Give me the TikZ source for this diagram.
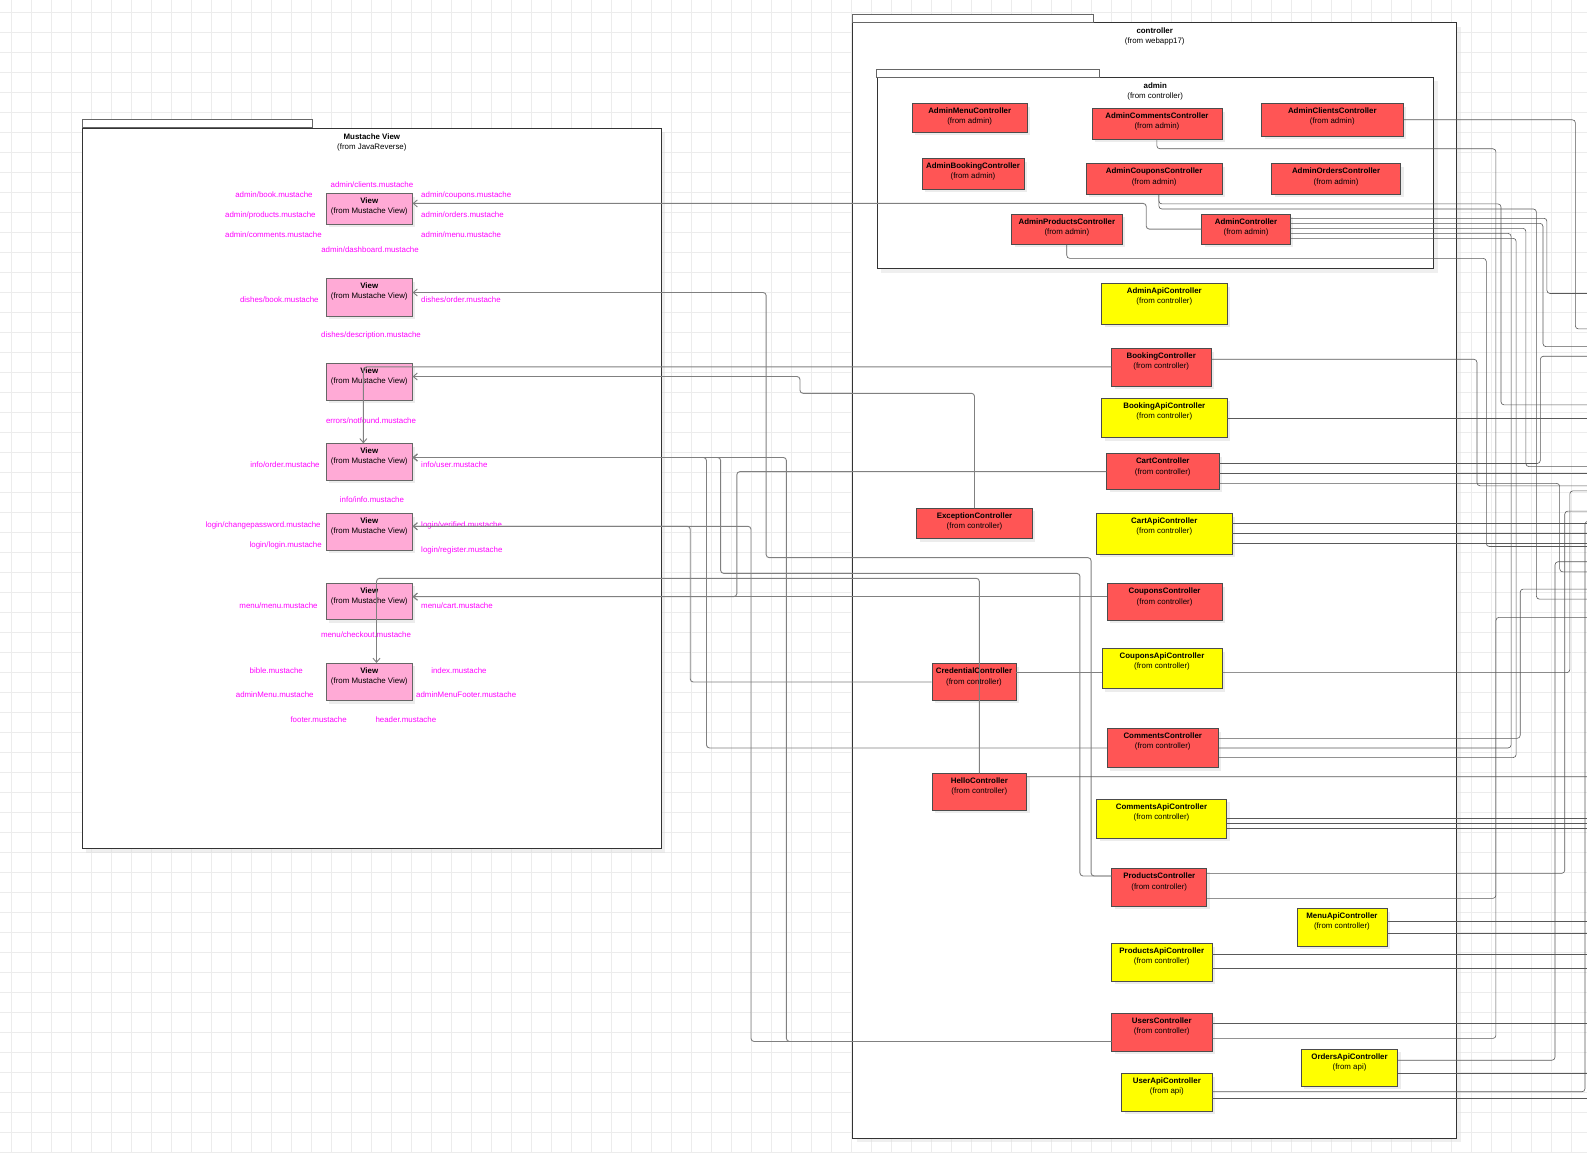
\documentclass[tikz,border=0pt]{standalone}
\usepackage{fontspec}
\setmainfont{Liberation Sans}
\usepackage{tikz}
\usetikzlibrary{arrows.meta, shadows}
\definecolor{ctrlred}{RGB}{255,85,85}
\definecolor{apiyellow}{RGB}{255,255,0}
\definecolor{viewpink}{RGB}{255,170,214}
\definecolor{tmplmagenta}{RGB}{255,0,255}
\definecolor{gridgray}{RGB}{236,236,236}
\tikzset{
  package/.style={
    rectangle,
    anchor=north west,
    draw=black!80,
    line width=0.8pt,
    fill=white,
    inner sep=0pt,
    drop shadow={shadow xshift=4pt, shadow yshift=-4pt, fill=black!12}
    },
  pkgtext/.style={
    anchor=north,
    align=center,
    inner xsep=1pt,
    inner ysep=5.5pt
    },
  pkg/.style 2 args={label={[pkgtext]north:{\textbf{#1}\\(from #2)}}},
  pkgtab/.style={draw=black!60, line width=0.6pt, fill=white},
  boxtext/.style={
    anchor=north,
    align=center,
    inner xsep=1pt,
    inner ysep=4.5pt
    },
  cls/.style 2 args={label={[boxtext]north:{\textbf{#1}\\(from #2)}}},
  classbox/.style={
    rectangle,
    anchor=north west,
    draw=black!70,
    line width=0.7pt,
    inner sep=0pt,
    drop shadow={shadow xshift=3pt, shadow yshift=-3pt, fill=black!14}
    },
  ctrlbox/.style={classbox, fill=ctrlred},
  apibox/.style={classbox, fill=apiyellow},
  viewbox/.style={classbox, fill=viewpink, draw=black!60},
  tmpl/.style={
    text=tmplmagenta,
    inner sep=1pt,
    text height=6pt,
    text depth=1.5pt
    },
  link/.style={draw=black!50, line width=0.9pt, rounded corners=3pt},
  wire/.style={draw=black!65, line width=0.6pt, rounded corners=3pt},
  gridline/.style={draw=gridgray, line width=0.5pt},
}

\begin{document}
\begin{tikzpicture}[
            x = 1pt, % one unit per screen pixel
            y = -1pt, % screen rows grow downward
            > = {Straight Barb[length=4pt, width=7pt]}, % open arrow head
            font = \fontsize{7.8}{10}\selectfont
        ]
\useasboundingbox (0,0) rectangle (1568,1139);
\fill[white] (0,0) rectangle (1568,1139);
\clip (0,0) rectangle (1568,1139);
\draw[gridline, step=19.76pt, shift={(11.56,12.15)}] (-11.56,1126.85) grid (1556.44,-12.15);

% packages
\node[package, pkg={Mustache View}{JavaReverse}, minimum width=572pt, minimum height=712pt] (mview) at (81,126) {};
\draw[pkgtab] (mview.north west) rectangle ++(228,-8);
\node[package, pkg={controller}{webapp17}, minimum width=597pt, minimum height=1102pt] (ctrlpkg) at (842,22) {};
\draw[pkgtab] (ctrlpkg.north west) rectangle ++(238,-8);
\node[package, pkg={admin}{controller}, minimum width=550pt, minimum height=189pt] (adminpkg) at (866,76) {};
\draw[pkgtab] (adminpkg.north west) rectangle ++(220,-8);

% mustache views
\node[viewbox, cls={View}{Mustache View}, minimum width=85pt, minimum height=30pt] (v1) at (322,191) {};
\node[viewbox, cls={View}{Mustache View}, minimum width=85pt, minimum height=37pt] (v2) at (322,275) {};
\node[viewbox, cls={View}{Mustache View}, minimum width=85pt, minimum height=36pt] (v3) at (322,359) {};
\node[viewbox, cls={View}{Mustache View}, minimum width=85pt, minimum height=36pt] (v4) at (322,438) {};
\node[viewbox, cls={View}{Mustache View}, minimum width=85pt, minimum height=36pt] (v5) at (322,507) {};
\node[viewbox, cls={View}{Mustache View}, minimum width=85pt, minimum height=36pt] (v6) at (322,576) {};
\node[viewbox, cls={View}{Mustache View}, minimum width=85pt, minimum height=37pt] (v7) at (322,655) {};

% template names
\node[tmpl] (lclients) at (367.5,183) {admin/clients.mustache};
\node[tmpl, anchor=east] (lbook) at (310,192.7) {admin/book.mustache};
\node[tmpl, anchor=east] (lproducts) at (313,212.4) {admin/products.mustache};
\node[tmpl, anchor=east] (lcomments) at (319,232) {admin/comments.mustache};
\node[tmpl] (ldashboard) at (365.6,247) {admin/dashboard.mustache};
\node[tmpl, anchor=west] (lcoupons) at (415,192.7) {admin/coupons.mustache};
\node[tmpl, anchor=west] (lorders) at (415,212.4) {admin/orders.mustache};
\node[tmpl, anchor=west] (lmenu) at (415,232) {admin/menu.mustache};
\node[tmpl, anchor=east] (ldbook) at (316,296.4) {dishes/book.mustache};
\node[tmpl, anchor=west] (ldorder) at (415,296.4) {dishes/order.mustache};
\node[tmpl] (lddesc) at (366.6,331) {dishes/description.mustache};
\node[tmpl] (lnotfound) at (366.6,416) {errors/notfound.mustache};
\node[tmpl, anchor=east] (liorder) at (317,460) {info/order.mustache};
\node[tmpl, anchor=west] (liuser) at (415,460) {info/user.mustache};
\node[tmpl] (liinfo) at (367.5,494) {info/info.mustache};
\node[tmpl, anchor=east] (lchpw) at (318,518.7) {login/changepassword.mustache};
\node[tmpl, anchor=west] (lverified) at (415,518.7) {login/verified.mustache};
\node[tmpl, anchor=east] (llogin) at (319,538.5) {login/login.mustache};
\node[tmpl, anchor=west] (lregister) at (415,543.4) {login/register.mustache};
\node[tmpl, anchor=east] (lmmenu) at (315,598.8) {menu/menu.mustache};
\node[tmpl, anchor=west] (lmcart) at (415,598.8) {menu/cart.mustache};
\node[tmpl] (lcheckout) at (361.6,627.4) {menu/checkout.mustache};
\node[tmpl, anchor=east] (lbible) at (300.4,663) {bible.mustache};
\node[tmpl, anchor=west] (lindex) at (424.9,663) {index.mustache};
\node[tmpl, anchor=east] (ladminmenu) at (311,686.7) {adminMenu.mustache};
\node[tmpl, anchor=west] (lmenufooter) at (410,686.7) {adminMenuFooter.mustache};
\node[tmpl] (lfooter) at (314.8,711.4) {footer.mustache};
\node[tmpl] (lheader) at (401,711.4) {header.mustache};

% admin controllers
\node[ctrlbox, cls={AdminMenuController}{admin}, minimum width=113.5pt, minimum height=28pt] (amenu) at (901,102) {};
\node[ctrlbox, cls={AdminCommentsController}{admin}, minimum width=128.5pt, minimum height=30pt] (acomments) at (1078.5,107) {};
\node[ctrlbox, cls={AdminClientsController}{admin}, minimum width=140pt, minimum height=32pt] (aclients) at (1246,102) {};
\node[ctrlbox, cls={AdminBookingController}{admin}, minimum width=101pt, minimum height=30pt] (abooking) at (910.5,156.5) {};
\node[ctrlbox, cls={AdminCouponsController}{admin}, minimum width=134pt, minimum height=30pt] (acoupons) at (1073,161.5) {};
\node[ctrlbox, cls={AdminOrdersController}{admin}, minimum width=127.5pt, minimum height=30pt] (aorders) at (1256,161.5) {};
\node[ctrlbox, cls={AdminProductsController}{admin}, minimum width=109.5pt, minimum height=30pt] (aproducts) at (999,211) {};
\node[ctrlbox, cls={AdminController}{admin}, minimum width=87.5pt, minimum height=30pt] (admctl) at (1187,211) {};

% controllers
\node[apibox, cls={AdminApiController}{controller}, minimum width=124pt, minimum height=40pt] (adminapi) at (1088,280) {};
\node[ctrlbox, cls={BookingController}{controller}, minimum width=98pt, minimum height=37pt] (booking) at (1098,344) {};
\node[apibox, cls={BookingApiController}{controller}, minimum width=124pt, minimum height=39pt] (bookingapi) at (1088,393) {};
\node[ctrlbox, cls={CartController}{controller}, minimum width=111pt, minimum height=35pt] (cart) at (1093,448) {};
\node[ctrlbox, cls={ExceptionController}{controller}, minimum width=114pt, minimum height=30pt] (exception) at (905.5,502) {};
\node[apibox, cls={CartApiController}{controller}, minimum width=134pt, minimum height=40pt] (cartapi) at (1083,507) {};
\node[ctrlbox, cls={CouponsController}{controller}, minimum width=113.5pt, minimum height=36pt] (coupons) at (1093.5,576.5) {};
\node[apibox, cls={CouponsApiController}{controller}, minimum width=118.5pt, minimum height=39.5pt] (couponsapi) at (1088.5,640.5) {};
\node[ctrlbox, cls={CredentialController}{controller}, minimum width=83pt, minimum height=36pt] (credential) at (920.5,655.5) {};
\node[ctrlbox, cls={CommentsController}{controller}, minimum width=110pt, minimum height=38.5pt] (comments) at (1093.5,719.5) {};
\node[ctrlbox, cls={HelloController}{controller}, minimum width=93.5pt, minimum height=36pt] (hello) at (920.5,764) {};
\node[apibox, cls={CommentsApiController}{controller}, minimum width=128.5pt, minimum height=39pt] (commentsapi) at (1083,789) {};
\node[ctrlbox, cls={ProductsController}{controller}, minimum width=94pt, minimum height=37pt] (products) at (1098,858) {};
\node[apibox, cls={MenuApiController}{controller}, minimum width=89pt, minimum height=37pt] (menuapi) at (1281,897.5) {};
\node[apibox, cls={ProductsApiController}{controller}, minimum width=99pt, minimum height=37pt] (productsapi) at (1098,932) {};
\node[ctrlbox, cls={UsersController}{controller}, minimum width=99pt, minimum height=37pt] (users) at (1098,1001) {};
\node[apibox, cls={OrdersApiController}{api}, minimum width=95pt, minimum height=37pt] (ordersapi) at (1285.5,1036) {};
\node[apibox, cls={UserApiController}{api}, minimum width=89pt, minimum height=37pt] (userapi) at (1108,1060.5) {};

% controllers to views
\draw[link, ->] (admctl.west) -| (1132.5,201) -- (v1.east |- 0,201);
\draw[link, ->] (products.west |- 0,865.5) -| (1078,551) -| (757,289) -- (v2.east |- 0,289);
\draw[link, ->] (exception.north) |- (790.4,388.6) |- (v3.east |- 0,372);
\draw[link, ->] (booking.west |- 0,362.5) -| (v4.north -| 359,0);
\draw[link, ->] (comments.west |- 0,739) -| (698,452) -- (v4.east |- 0,452);
\draw[link, ->] (products.west |- 0,865.5) -| (1067,566.5) -| (712,452) -- (v4.east |- 0,452);
\draw[link, ->] (users.west |- 0,1029) -| (777,452) -- (v4.east |- 0,452);
\draw[link, ->] (credential.west) -| (682,520) -- (v5.east |- 0,520);
\draw[link, ->] (users.west |- 0,1029) -| (742,520) -- (v5.east |- 0,520);
\draw[link, ->] (coupons.west |- 0,589.5) -- (v6.east |- 0,589.5);
\draw[link, ->] (cart.west |- 0,466) -| (728,589.5) -- (v6.east |- 0,589.5);
\draw[link, ->] (hello.north) |- (372,571.4) -- (v7.north -| 372,0);
\draw[link] (credential.east |- 0,664.6) -- (couponsapi.west |- 0,664.6);

% between controllers
\draw[wire] (acomments.south -| 1143,0) |- (1478,147) |- (products.east |- 0,887.6);
\draw[wire] (admctl.east |- 0,230.6) -| (1493,739) -- (comments.east |- 0,739);
\draw[wire] (admctl.east |- 0,235.5) -| (1498,748.5) -- (comments.east |- 0,748.5);

% to classes beyond the right edge
\coordinate (off1) at (1600,325);
\draw[wire] (aclients.east) -| (1556.5,325) -- (off1);
\coordinate (off2) at (1600,400);
\draw[wire] (acoupons.south -| 1145,0) |- (1483,201.5) |- (off2);
\coordinate (off3) at (1600,592);
\draw[wire] (acoupons.south -| 1145,0) |- (1518,206.5) |- (off3);
\coordinate (off4) at (1600,290);
\draw[wire] (admctl.east |- 0,215.7) -| (1528.4,290) -- (off4);
\coordinate (off5) at (1600,342.5);
\draw[wire] (admctl.east |- 0,220.7) -| (1524.5,342.5) -- (off5);
\coordinate (off6) at (1600,461);
\draw[wire] (admctl.east |- 0,225.6) -| (1507.6,461) -- (off6);
\coordinate (off7) at (1600,582);
\draw[wire] (comments.east |- 0,729.5) -| (1502,582) -- (off7);
\coordinate (off8) at (1600,540);
\draw[wire] (aproducts.south -| 1054,0) |- (1468.5,255.3) |- (off8);
\coordinate (off9) at (1600,480);
\draw[wire] (booking.east |- 0,355) -| (1459.3,480) -- (off9);
\coordinate (off10) at (1600,413.4);
\draw[wire] (bookingapi.east |- 0,413.4) -- (off10);
\coordinate (off11) at (1600,352);
\draw[wire] (cart.east |- 0,457.9) -| (1521.9,352) -- (off11);
\coordinate (off12) at (1600,467.8);
\draw[wire] (cart.east |- 0,467.8) -- (off12);
\coordinate (off13) at (1600,565);
\draw[wire] (cart.east |- 0,477.6) -| (1541,565) -- (off13);
\coordinate (off14) at (1600,517);
\draw[wire] (cartapi.east |- 0,517) -- (off14);
\coordinate (off15) at (1600,527);
\draw[wire] (cartapi.east |- 0,527) -- (off15);
\coordinate (off16) at (1600,537);
\draw[wire] (cartapi.east |- 0,537) -- (off16);
\coordinate (off17) at (1600,485);
\draw[wire] (couponsapi.east |- 0,664.6) -| (1551,485) -- (off17);
\coordinate (off18) at (1600,500);
\draw[wire] (hello.east |- 0,767.4) -| (1572,500) -- (off18);
\coordinate (off19) at (1600,808.6);
\draw[wire] (commentsapi.east |- 0,808.6) -- (off19);
\coordinate (off20) at (1600,813.6);
\draw[wire] (commentsapi.east |- 0,813.6) -- (off20);
\coordinate (off21) at (1600,818.5);
\draw[wire] (commentsapi.east |- 0,818.5) -- (off21);
\coordinate (off22) at (1600,505);
\draw[wire] (products.east |- 0,862.9) -| (1546,505) -- (off22);
\coordinate (off23) at (1600,910.6);
\draw[wire] (menuapi.east |- 0,910.6) -- (off23);
\coordinate (off24) at (1600,922.2);
\draw[wire] (menuapi.east |- 0,922.2) -- (off24);
\coordinate (off25) at (1600,942.6);
\draw[wire] (productsapi.east |- 0,942.6) -- (off25);
\coordinate (off26) at (1600,957);
\draw[wire] (productsapi.east |- 0,957) -- (off26);
\coordinate (off27) at (1600,1011.2);
\draw[wire] (users.east |- 0,1011.2) -- (off27);
\coordinate (off28) at (1600,610);
\draw[wire] (users.east |- 0,1026) -| (1478,610) -- (off28);
\coordinate (off29) at (1600,555);
\draw[wire] (ordersapi.east |- 0,1047.5) -| (1536.4,555) -- (off29);
\coordinate (off30) at (1600,1060.7);
\draw[wire] (ordersapi.east |- 0,1060.7) -- (off30);
\coordinate (off31) at (1600,515);
\draw[wire] (userapi.east |- 0,1078.7) -| (1566,515) -- (off31);
\coordinate (off32) at (1600,1085.3);
\draw[wire] (userapi.east |- 0,1085.3) -- (off32);
\end{tikzpicture}
\end{document}
